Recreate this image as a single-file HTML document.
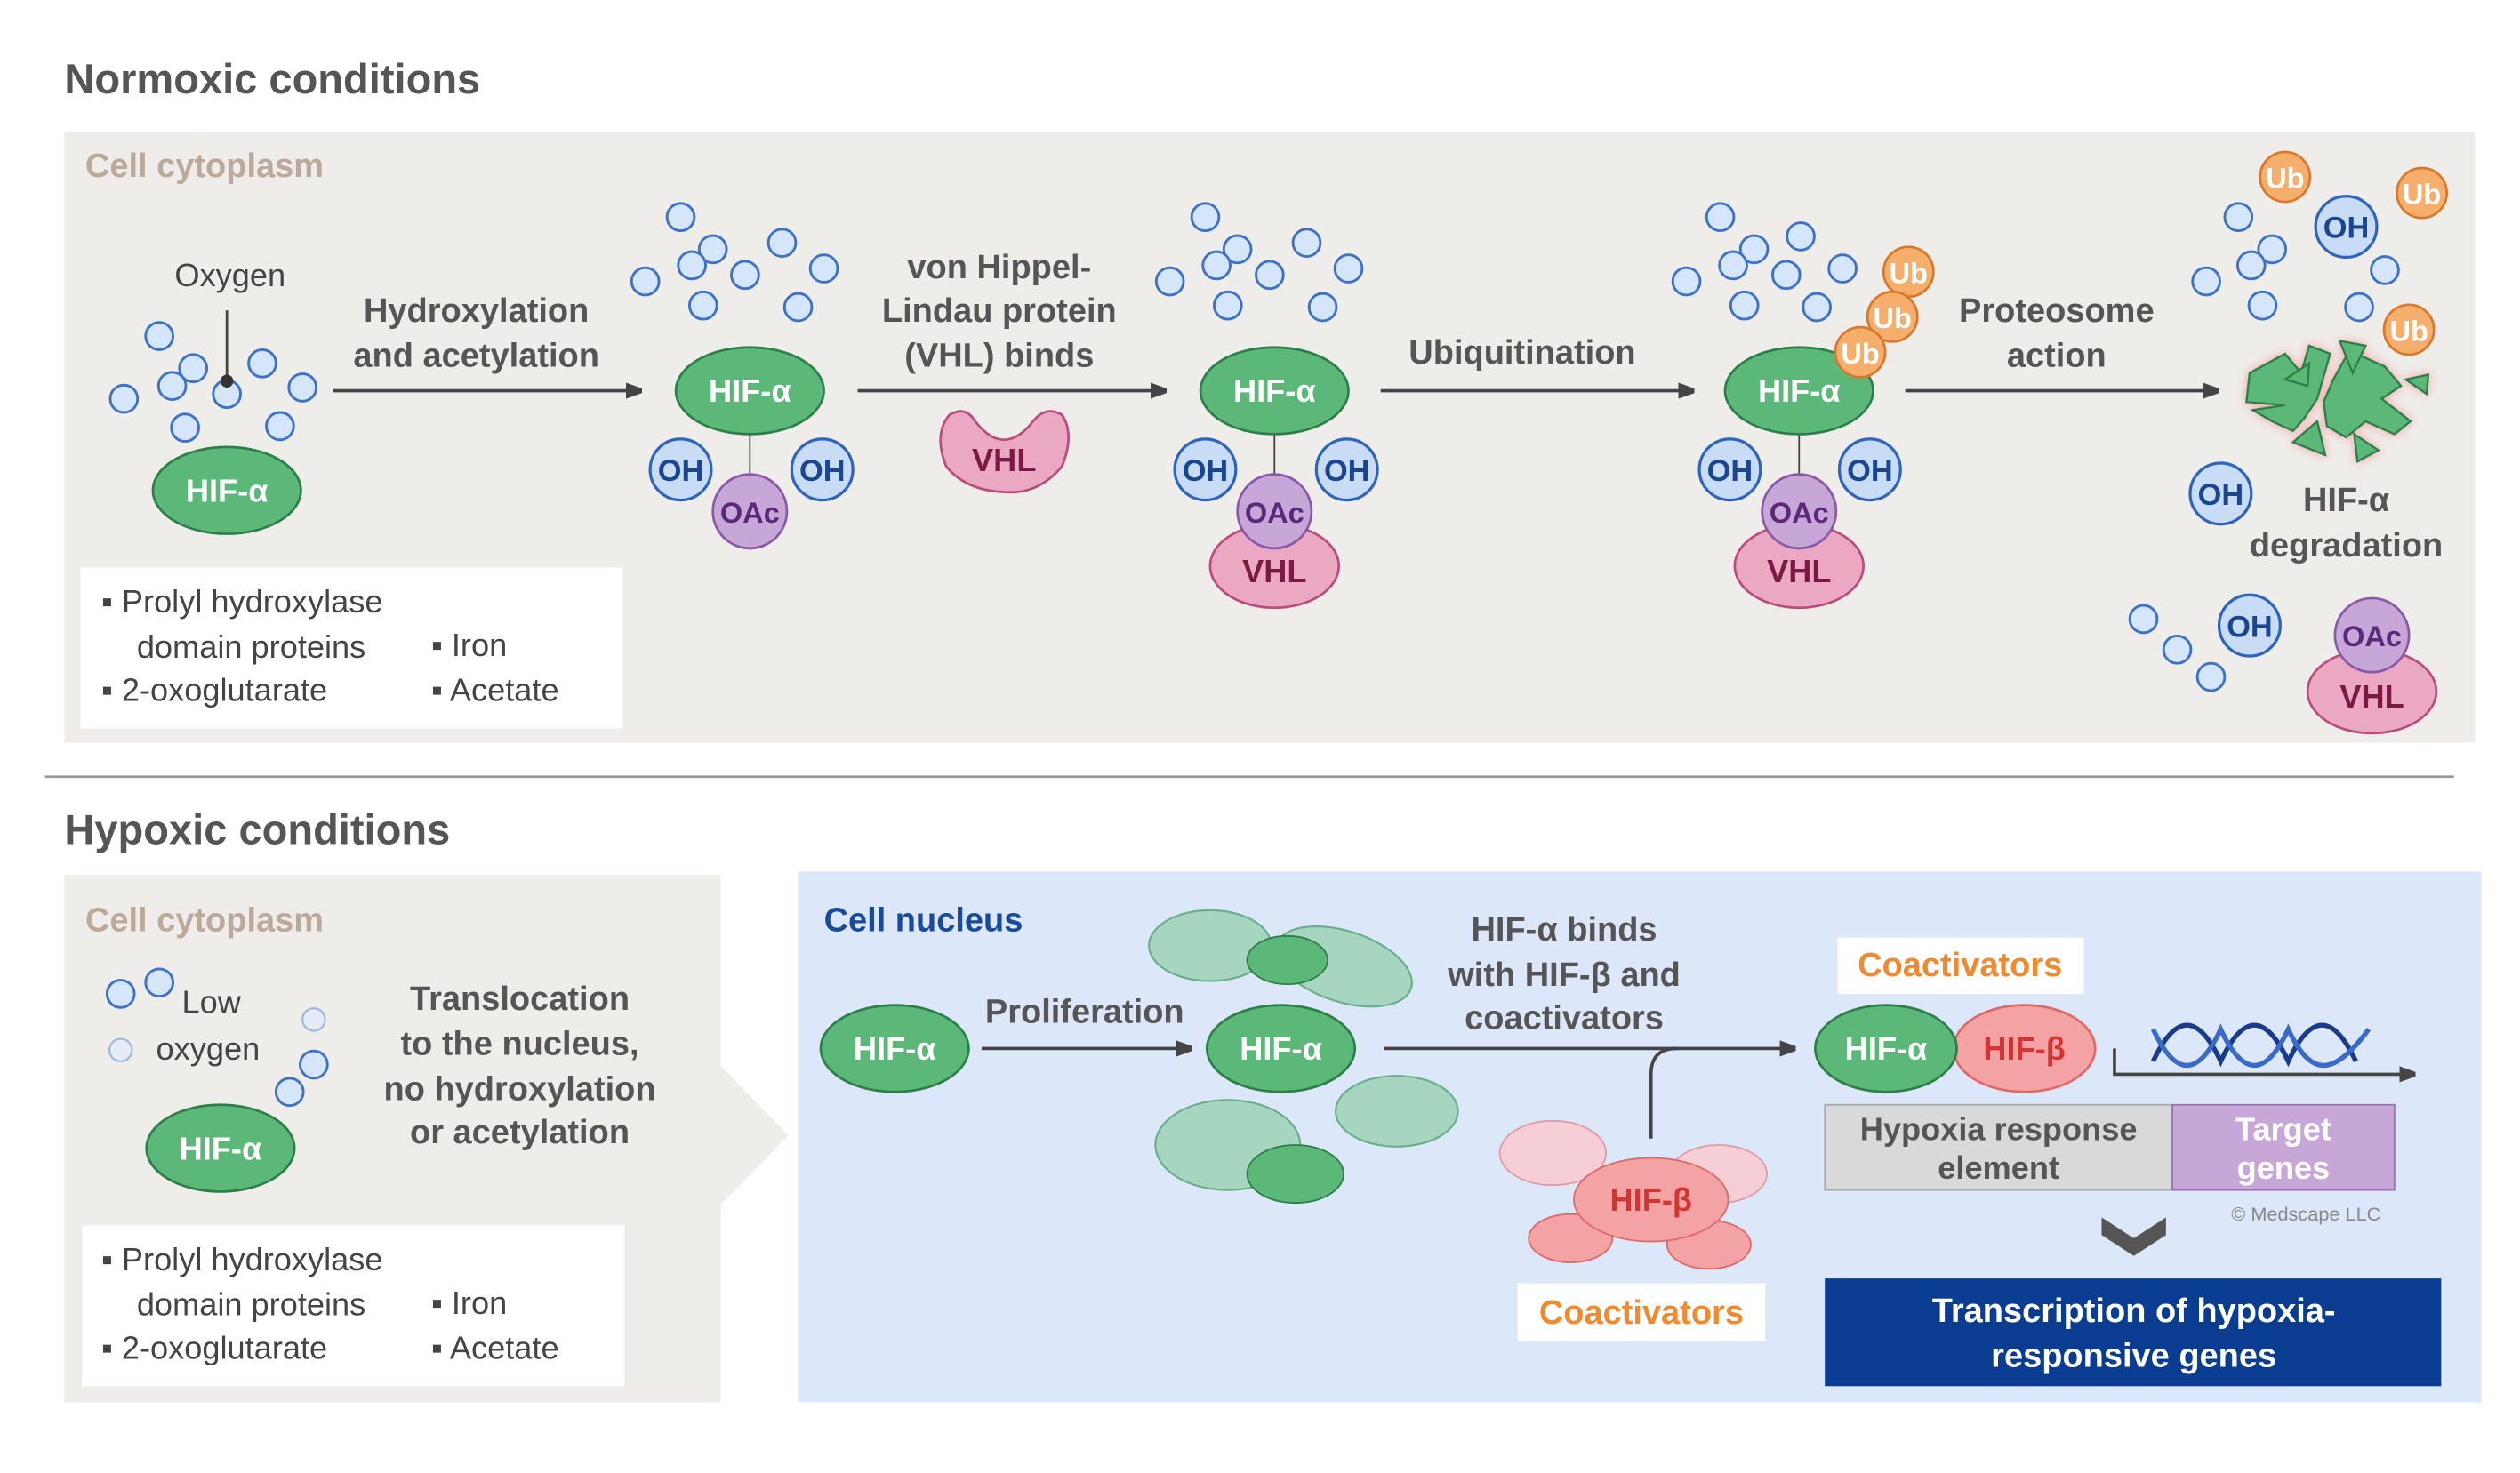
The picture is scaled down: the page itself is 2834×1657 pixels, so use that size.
<!DOCTYPE html>
<html><head><meta charset="utf-8"><style>
html,body{margin:0;padding:0;background:#fff}
svg{display:block}
text{font-family:"Liberation Sans",sans-serif}
</style></head><body>
<svg width="2834" height="1657" viewBox="0 0 1566 916" preserveAspectRatio="none" xmlns="http://www.w3.org/2000/svg">
<defs>
<marker id="ah" markerWidth="10" markerHeight="10" refX="9" refY="5" orient="auto" markerUnits="userSpaceOnUse"><path d="M0,0 L14,5 L0,10 Z" fill="#444"/></marker>
<g id="o2"><circle r="8.5" fill="#d6e6fa" stroke="#3d72c4" stroke-width="1.6"/></g>
<g id="hif"><ellipse rx="46" ry="27" fill="#5cb878" stroke="#2c7f48" stroke-width="1.5"/><text y="7" text-anchor="middle" font-size="20" font-weight="bold" fill="#fff">HIF-α</text></g>
<g id="oh"><circle r="19" fill="#c8dcf6" stroke="#2f64bb" stroke-width="1.8"/><text y="7" text-anchor="middle" font-size="19" font-weight="bold" fill="#1a4690">OH</text></g>
<g id="oac"><circle r="23" fill="#c7a6d8" stroke="#8a58a8" stroke-width="1.5"/><text y="7" text-anchor="middle" font-size="18" font-weight="bold" fill="#5a2a7a">OAc</text></g>
<g id="vhl"><ellipse rx="40" ry="26" fill="#eaa8c2" stroke="#b84d7c" stroke-width="1.5"/><text y="10" text-anchor="middle" font-size="20" font-weight="bold" fill="#7a1a44">VHL</text></g>
<g id="ub"><circle r="15.5" fill="#f6ae6c" stroke="#d9782a" stroke-width="1.5"/><text y="7" text-anchor="middle" font-size="18" font-weight="bold" fill="#fff">Ub</text></g>
<g id="pale"><circle r="7" fill="#e4ecf8" stroke="#9ab8e0" stroke-width="1.2"/></g>
</defs>

<!-- Normoxic -->
<text x="40" y="58" font-size="26" font-weight="bold" fill="#555">Normoxic conditions</text>
<rect x="40" y="82" width="1498" height="380" fill="#efedea"/>
<text x="53" y="110" font-size="21" font-weight="bold" fill="#bba999">Cell cytoplasm</text>

<text x="143" y="178" text-anchor="middle" font-size="20" fill="#444">Oxygen</text>
<line x1="141" y1="193" x2="141" y2="237" stroke="#444" stroke-width="1.5"/>
<use href="#o2" x="99" y="209"/><use href="#o2" x="163" y="226"/><use href="#o2" x="120" y="229"/><use href="#o2" x="107" y="240"/><use href="#o2" x="141" y="245"/><use href="#o2" x="188" y="241"/><use href="#o2" x="77" y="248"/><use href="#o2" x="115" y="266"/><use href="#o2" x="174" y="265"/>
<circle cx="141" cy="237" r="4" fill="#333"/>
<use href="#hif" x="141" y="305"/>

<text x="296" y="200" text-anchor="middle" font-size="21" font-weight="bold" fill="#555">Hydroxylation</text>
<text x="296" y="228" text-anchor="middle" font-size="21" font-weight="bold" fill="#555">and acetylation</text>
<line x1="207" y1="243" x2="398" y2="243" stroke="#444" stroke-width="2" marker-end="url(#ah)"/>

<g>
<use href="#o2" x="423" y="135"/><use href="#o2" x="443" y="155"/><use href="#o2" x="430" y="165"/><use href="#o2" x="486" y="151"/><use href="#o2" x="512" y="167"/><use href="#o2" x="401" y="175"/><use href="#o2" x="463" y="171"/><use href="#o2" x="437" y="190"/><use href="#o2" x="496" y="191"/>
<line x1="466" y1="268" x2="466" y2="296" stroke="#444"/>
<use href="#hif" x="466" y="243"/>
<use href="#oh" x="423" y="292"/><use href="#oh" x="511" y="292"/><use href="#oac" x="466" y="318"/>
</g>
<text x="621" y="173" text-anchor="middle" font-size="21" font-weight="bold" fill="#555">von Hippel-</text>
<text x="621" y="200" text-anchor="middle" font-size="21" font-weight="bold" fill="#555">Lindau protein</text>
<text x="621" y="228" text-anchor="middle" font-size="21" font-weight="bold" fill="#555">(VHL) binds</text>
<line x1="533" y1="243" x2="724" y2="243" stroke="#444" stroke-width="2" marker-end="url(#ah)"/>
<path d="M590,258 Q600,252 606,262 Q624,285 642,262 Q650,252 660,258 Q668,270 660,290 Q645,308 624,306 Q600,305 588,290 Q580,270 590,258 Z" fill="#eaa8c2" stroke="#b84d7c" stroke-width="1.5"/>
<text x="624" y="293" text-anchor="middle" font-size="20" font-weight="bold" fill="#7a1a44">VHL</text>

<g transform="translate(326,0)">
<use href="#o2" x="423" y="135"/><use href="#o2" x="443" y="155"/><use href="#o2" x="430" y="165"/><use href="#o2" x="486" y="151"/><use href="#o2" x="512" y="167"/><use href="#o2" x="401" y="175"/><use href="#o2" x="463" y="171"/><use href="#o2" x="437" y="190"/><use href="#o2" x="496" y="191"/>
<use href="#vhl" x="466" y="352"/>
<line x1="466" y1="268" x2="466" y2="296" stroke="#444"/>
<use href="#hif" x="466" y="243"/>
<use href="#oh" x="423" y="292"/><use href="#oh" x="511" y="292"/><use href="#oac" x="466" y="318"/>
</g>
<text x="946" y="226" text-anchor="middle" font-size="21" font-weight="bold" fill="#555">Ubiquitination</text>
<line x1="858" y1="243" x2="1052" y2="243" stroke="#444" stroke-width="2" marker-end="url(#ah)"/>

<g transform="translate(652,0)">
<use href="#o2" x="417" y="135"/><use href="#o2" x="438" y="155"/><use href="#o2" x="425" y="165"/><use href="#o2" x="467" y="147"/><use href="#o2" x="493" y="167"/><use href="#o2" x="396" y="175"/><use href="#o2" x="458" y="171"/><use href="#o2" x="432" y="190"/><use href="#o2" x="477" y="191"/>
<use href="#vhl" x="466" y="352"/>
<line x1="466" y1="268" x2="466" y2="296" stroke="#444"/>
<use href="#hif" x="466" y="243"/>
<use href="#oh" x="423" y="292"/><use href="#oh" x="510" y="292"/><use href="#oac" x="466" y="318"/>
</g>
<use href="#ub" x="1186" y="169"/><use href="#ub" x="1176" y="197"/><use href="#ub" x="1156" y="219"/>

<text x="1278" y="200" text-anchor="middle" font-size="21" font-weight="bold" fill="#555">Proteosome</text>
<text x="1278" y="228" text-anchor="middle" font-size="21" font-weight="bold" fill="#555">action</text>
<line x1="1184" y1="243" x2="1378" y2="243" stroke="#444" stroke-width="2" marker-end="url(#ah)"/>

<use href="#o2" x="1391" y="135"/><use href="#o2" x="1412" y="155"/><use href="#o2" x="1399" y="165"/><use href="#o2" x="1371" y="175"/><use href="#o2" x="1482" y="168"/><use href="#o2" x="1406" y="190"/><use href="#o2" x="1466" y="191"/>
<use href="#ub" x="1420" y="110"/><use href="#ub" x="1505" y="120"/><use href="#ub" x="1497" y="205"/>
<use href="#oh" x="1458" y="141"/>
<g fill="#5cb878" stroke="#2c7f48" stroke-width="1.3" style="filter:drop-shadow(0 0 3px #f0a0a0)">
<path d="M1398,232 L1420,220 L1430,232 L1435,215 L1448,220 L1440,248 L1432,260 L1425,268 L1412,262 L1400,255 L1420,252 L1396,250 Z"/>
<path d="M1450,236 L1460,218 L1482,228 L1492,240 L1480,248 L1498,262 L1488,270 L1470,262 L1458,272 L1446,265 L1444,250 Z"/>
<path d="M1420,236 L1435,226 L1434,240 Z"/><path d="M1454,212 L1470,215 L1462,232 Z"/>
<path d="M1495,236 L1509,233 L1508,245 Z"/><path d="M1425,275 L1440,262 L1445,283 Z"/>
<path d="M1463,270 L1478,280 L1465,287 Z"/>
</g>
<use href="#oh" x="1380" y="307"/>
<text x="1458" y="318" text-anchor="middle" font-size="21" font-weight="bold" fill="#555">HIF-α</text>
<text x="1458" y="346" text-anchor="middle" font-size="21" font-weight="bold" fill="#555">degradation</text>
<use href="#o2" x="1332" y="385"/><use href="#o2" x="1353" y="404"/><use href="#o2" x="1374" y="421"/>
<use href="#oh" x="1398" y="389"/>
<use href="#vhl" x="1474" y="430"/><use href="#oac" x="1474" y="395"/>

<rect x="50" y="353" width="337" height="100" fill="#fff"/>
<g font-size="20" fill="#444">
<text x="63" y="381">▪ Prolyl hydroxylase</text><text x="85" y="409">domain proteins</text>
<text x="268" y="408">▪ Iron</text><text x="63" y="436">▪ 2-oxoglutarate</text><text x="268" y="436">▪ Acetate</text>
</g>

<line x1="28" y1="483" x2="1525" y2="483" stroke="#999" stroke-width="1.5"/>

<text x="40" y="525" font-size="26" font-weight="bold" fill="#555">Hypoxic conditions</text>
<rect x="40" y="544" width="408" height="328" fill="#efedea"/>
<polygon points="447,662 490,706 447,750" fill="#efedea"/>
<text x="53" y="579" font-size="21" font-weight="bold" fill="#bba999">Cell cytoplasm</text>
<use href="#o2" x="75" y="618"/><use href="#o2" x="99" y="611"/><use href="#pale" x="195" y="634"/><use href="#pale" x="75" y="653"/><use href="#o2" x="195" y="662"/><use href="#o2" x="180" y="679"/>
<text x="113" y="630" font-size="20" fill="#444">Low</text>
<text x="97" y="659" font-size="20" fill="#444">oxygen</text>
<use href="#hif" x="137" y="714"/>
<g font-size="21" font-weight="bold" fill="#555" text-anchor="middle">
<text x="323" y="628">Translocation</text><text x="323" y="656">to the nucleus,</text><text x="323" y="684">no hydroxylation</text><text x="323" y="711">or acetylation</text>
</g>
<rect x="51" y="762" width="337" height="100" fill="#fff"/>
<g font-size="20" fill="#444">
<text x="63" y="790">▪ Prolyl hydroxylase</text><text x="85" y="818">domain proteins</text>
<text x="268" y="817">▪ Iron</text><text x="63" y="845">▪ 2-oxoglutarate</text><text x="268" y="845">▪ Acetate</text>
</g>

<rect x="496" y="542" width="1046" height="330" fill="#dce8fa"/>
<text x="512" y="579" font-size="21" font-weight="bold" fill="#1a4a9a">Cell nucleus</text>
<use href="#hif" x="556" y="652"/>
<text x="674" y="636" text-anchor="middle" font-size="21" font-weight="bold" fill="#555">Proliferation</text>
<line x1="610" y1="652" x2="740" y2="652" stroke="#444" stroke-width="2" marker-end="url(#ah)"/>
<g fill="#a6d6bf" stroke="#6aae8a" stroke-width="1.2">
<ellipse cx="752" cy="588" rx="38" ry="22"/>
<ellipse cx="835" cy="601" rx="44" ry="22" transform="rotate(18 835 601)"/>
<ellipse cx="868" cy="691" rx="38" ry="22"/>
<ellipse cx="763" cy="712" rx="45" ry="28"/>
</g>
<ellipse cx="800" cy="597" rx="25" ry="15" fill="#5cb878" stroke="#2c7f48"/>
<ellipse cx="805" cy="730" rx="30" ry="18" fill="#5cb878" stroke="#2c7f48"/>
<use href="#hif" x="796" y="652"/>

<g font-size="21" font-weight="bold" fill="#555" text-anchor="middle">
<text x="972" y="585">HIF-α binds</text><text x="972" y="613">with HIF-β and</text><text x="972" y="640">coactivators</text>
</g>
<line x1="860" y1="652" x2="1115" y2="652" stroke="#444" stroke-width="2" marker-end="url(#ah)"/>
<path d="M1026,708 L1026,668 Q1026,652 1042,652" fill="none" stroke="#444" stroke-width="2"/>

<ellipse cx="965" cy="717" rx="33" ry="20" fill="#f6cfd6" stroke="#e09aa4"/>
<ellipse cx="1068" cy="730" rx="30" ry="18" fill="#f6cfd6" stroke="#e09aa4"/>
<ellipse cx="976" cy="770" rx="26" ry="15" fill="#f3a3a3" stroke="#df6868"/>
<ellipse cx="1062" cy="774" rx="26" ry="15" fill="#f3a3a3" stroke="#df6868"/>
<ellipse cx="1026" cy="746" rx="48" ry="26" fill="#f3a3a3" stroke="#df6868"/>
<text x="1026" y="753" text-anchor="middle" font-size="20" font-weight="bold" fill="#d63434">HIF-β</text>
<rect x="943" y="798" width="154" height="36" fill="#fff"/>
<text x="1020" y="823" text-anchor="middle" font-size="21" font-weight="bold" fill="#f08a30">Coactivators</text>

<rect x="1142" y="583" width="153" height="35" fill="#fff"/>
<text x="1218" y="607" text-anchor="middle" font-size="21" font-weight="bold" fill="#f08a30">Coactivators</text>
<ellipse cx="1258" cy="652" rx="44" ry="27" fill="#f3a3a3" stroke="#df6868" stroke-width="1.5"/>
<text x="1258" y="659" text-anchor="middle" font-size="20" font-weight="bold" fill="#d63434">HIF-β</text>
<g transform="translate(1172,652)"><ellipse rx="44" ry="27" fill="#5cb878" stroke="#2c7f48" stroke-width="1.5"/><text y="7" text-anchor="middle" font-size="20" font-weight="bold" fill="#fff">HIF-α</text></g>

<g fill="none" stroke-width="3">
<path d="M1338,660 C1352,630 1366,630 1380,660 C1394,630 1408,630 1422,660 C1436,630 1450,630 1464,660" stroke="#1a3a8a"/>
<path d="M1338,640 C1352,670 1366,670 1380,640 C1394,670 1408,670 1422,640 C1436,670 1450,670 1472,640" stroke="#3a6ac8"/>
</g>
<polyline points="1314,652 1314,668 1500,668" fill="none" stroke="#444" stroke-width="2" marker-end="url(#ah)"/>

<rect x="1134" y="687" width="216" height="53" fill="#d9d9d9" stroke="#aaa"/>
<text x="1242" y="709" text-anchor="middle" font-size="20" font-weight="bold" fill="#555">Hypoxia response</text>
<text x="1242" y="733" text-anchor="middle" font-size="20" font-weight="bold" fill="#555">element</text>
<rect x="1350" y="687" width="138" height="53" fill="#c7a6d8" stroke="#9a70b8"/>
<text x="1419" y="709" text-anchor="middle" font-size="20" font-weight="bold" fill="#fff">Target</text>
<text x="1419" y="733" text-anchor="middle" font-size="20" font-weight="bold" fill="#fff">genes</text>
<text x="1433" y="759" text-anchor="middle" font-size="12" fill="#888">© Medscape LLC</text>
<path d="M1306,757 L1326,770 L1346,757 L1346,768 L1326,781 L1306,768 Z" fill="#555"/>
<rect x="1134" y="795" width="383" height="67" fill="#0a3d91"/>
<text x="1326" y="822" text-anchor="middle" font-size="21" font-weight="bold" fill="#fff">Transcription of hypoxia-</text>
<text x="1326" y="850" text-anchor="middle" font-size="21" font-weight="bold" fill="#fff">responsive genes</text>
</svg>
</body></html>
